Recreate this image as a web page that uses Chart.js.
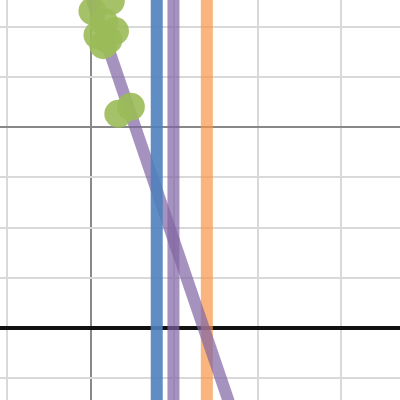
<!DOCTYPE html>
<html>
<head>
<meta charset="utf-8">
<script src="https://cdn.jsdelivr.net/npm/chart.js@4"></script>
<style>
    html, body { margin: 0; padding: 0; background: #fff; }
    #wrap { width: 400px; height: 400px; }
</style>
</head>
<body>
<div id="wrap"><canvas id="chart"></canvas></div>
<script>
// Grid ticks
const xTicks = [-1, 0, 1, 2, 3];
const yTicks = [-1, 0, 1, 2, 3, 4, 5, 6];

// Green points
const pointX = [0.02, 0.24, 0.16, 0.29, 0.08, 0.21, 0.15, 0.33, 0.48];
const pointY = [6.32, 6.52, 6.10, 5.92, 5.84, 5.74, 5.64, 4.27, 4.41];

// Vertical lines (x position)
const blueX = 0.79;
const purpleX = 0.99;
const orangeX = 1.39;

// Sloped line end points
const trendX = [-0.08, 1.76];
const trendY = [7, -2];

const xMin = -1.087, xMax = 3.703;
const yMin = -1.443, yMax = 6.541;

function vertical(x) {
    return [{ x: x, y: yMin - 1 }, { x: x, y: yMax + 1 }];
}

function lineSet(data, color) {
    return {
        data: data,
        showLine: true,
        borderColor: color,
        borderWidth: 12,
        borderCapStyle: 'butt',
        pointRadius: 0,
        fill: false
    };
}

const ctx = document.getElementById('chart').getContext('2d');
new Chart(ctx, {
    type: 'scatter',
    data: {
        datasets: [
            {
                data: pointX.map((x, i) => ({ x: x, y: pointY[i] })),
                backgroundColor: 'rgba(155, 187, 89, 0.9)',
                borderWidth: 0,
                pointRadius: 14
            },
            lineSet(vertical(blueX), 'rgba(79, 129, 189, 0.9)'),
            lineSet(trendX.map((x, i) => ({ x: x, y: trendY[i] })), 'rgba(128, 100, 162, 0.7)'),
            lineSet(vertical(purpleX), 'rgba(128, 100, 162, 0.7)'),
            lineSet(vertical(orangeX), 'rgba(247, 150, 70, 0.7)')
        ]
    },
    options: {
        responsive: true,
        maintainAspectRatio: false,
        animation: false,
        layout: { padding: 0, autoPadding: false },
        plugins: {
            legend: { display: false },
            tooltip: { enabled: false }
        },
        scales: {
            x: {
                type: 'linear',
                min: xMin,
                max: xMax,
                afterBuildTicks: scale => { scale.ticks = xTicks.map(v => ({ value: v })); },
                afterFit: scale => { scale.height = 0; },
                ticks: { display: false },
                border: { display: false },
                grid: {
                    drawTicks: false,
                    lineWidth: 2,
                    color: c => c.tick && c.tick.value === 0 ? '#888888' : '#d9d9d9'
                }
            },
            y: {
                type: 'linear',
                min: yMin,
                max: yMax,
                afterBuildTicks: scale => { scale.ticks = yTicks.map(v => ({ value: v })); },
                afterFit: scale => { scale.width = 0; },
                ticks: { display: false },
                border: { display: false },
                grid: {
                    drawTicks: false,
                    lineWidth: c => c.tick && c.tick.value === 0 ? 4 : 2,
                    color: c => {
                        if (!c.tick) return '#d9d9d9';
                        if (c.tick.value === 0) return '#111111';
                        if (c.tick.value === 4) return '#888888';
                        return '#d9d9d9';
                    }
                }
            }
        }
    }
});
</script>
</body>
</html>
